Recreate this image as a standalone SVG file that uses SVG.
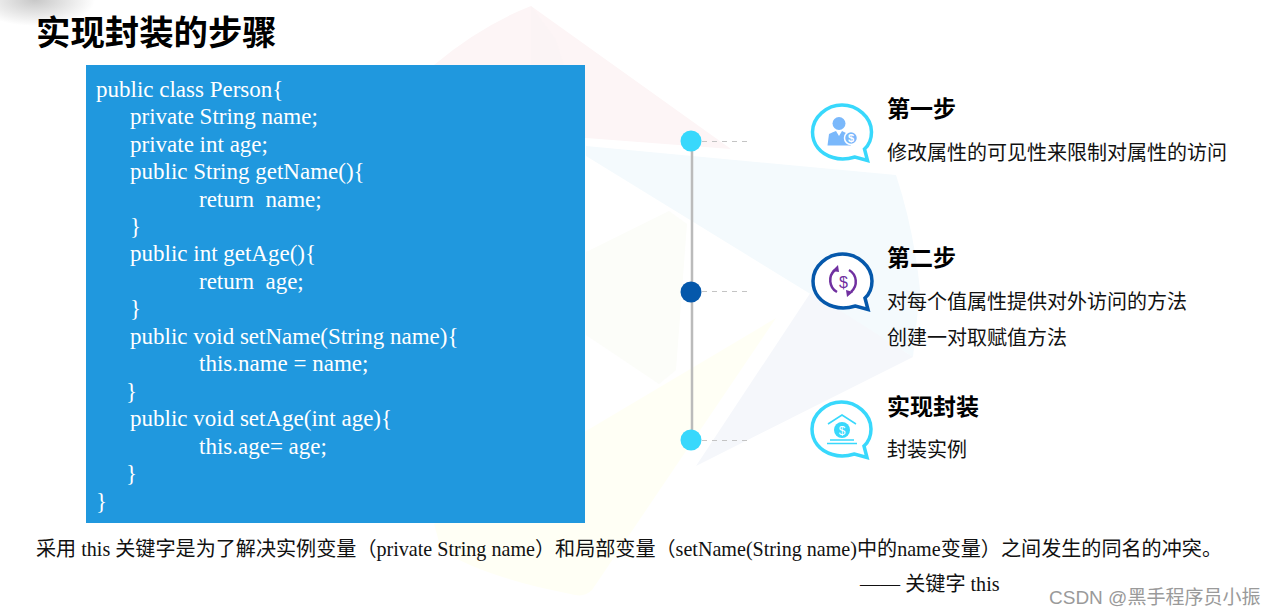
<svg xmlns="http://www.w3.org/2000/svg" xmlns:xlink="http://www.w3.org/1999/xlink" width="1276" height="616" viewBox="0 0 1276 616">
<style>
.code{font-family:"Liberation Serif","Noto Sans CJK SC",serif;font-size:23px;fill:#fff;white-space:pre}
.cjk{font-family:"Noto Sans CJK SC","Liberation Sans",sans-serif;fill:#000}
.h{font-size:23px;font-weight:700}
.b{font-size:20px;fill:#111}
.mix{font-family:"Liberation Serif","Noto Sans CJK SC",serif;font-size:20.1px;fill:#111}
.dash{stroke:#c4c4c4;stroke-width:1;stroke-dasharray:5 5;fill:none}
.light{fill:#38d8fc}.dark{fill:#0558ab}
.bub{fill:#fff;stroke-width:3.500;stroke-linejoin:miter;stroke-miterlimit:3}
</style>
<defs>
<radialGradient id="g"><stop offset="0" stop-color="#c8c8c8"/><stop offset="1" stop-color="#fff"/></radialGradient>
<path id="bubble" d="M13 25C5 27.500 -3 27.500 -9 25.500C-22 22 -29.500 12 -29.500 0C-29.500 -15 -15 -27 0 -27C15 -27 29.500 -15 29.500 0C29.500 7 27 13 22.500 17L25.500 28.500Z"/>
</defs>
<rect width="1276" height="616" fill="#fff"/>
<ellipse cx="35" cy="0" rx="60" ry="26" fill="url(#g)"/>
<g id="background">
<path d="M434 65Q480 26 531 6L731 149L586 138L434 138Z" fill="#fdf5f6"/>
<path d="M531 6L556 40L586 138L531 138Z" fill="#fbf4f5"/>
<path d="M586 146L896 175Q914 230 920 290L913 357L586 156Z" fill="#f4fafd"/>
<path d="M811 292L913 357L696 466Z" fill="#f5f7fb"/>
<path d="M586 252L669 211L687 224L676 370L659 384L586 335Z" fill="#fcfdf9"/>
<path d="M776 318L592 590Q585 597 575 595L538 587Q470 570 441 549L434 524L586 431Z" fill="#fffff5"/>
</g>
<text class="cjk" x="36" y="45" font-size="34.400" font-weight="700">实现封装的步骤</text>
<g id="code">
<rect x="86" y="65" width="499" height="458" fill="#2098de"/>
<text class="code" x="96" y="96.500">public class Person{</text>
<text class="code" x="130" y="124">private String name;</text>
<text class="code" x="130" y="151.500">private int age;</text>
<text class="code" x="130" y="179">public String getName(){</text>
<text class="code" x="199" y="206.500">return  name;</text>
<text class="code" x="130" y="233.500">}</text>
<text class="code" x="130" y="261">public int getAge(){</text>
<text class="code" x="199" y="288.500">return  age;</text>
<text class="code" x="130" y="316">}</text>
<text class="code" x="130" y="343.500">public void setName(String name){</text>
<text class="code" x="199" y="371">this.name = name;</text>
<text class="code" x="126" y="398.500">}</text>
<text class="code" x="130" y="426">public void setAge(int age){</text>
<text class="code" x="199" y="453.500">this.age= age;</text>
<text class="code" x="126" y="481">}</text>
<text class="code" x="96" y="508.500">}</text>
</g>
<g id="connectors">
<line x1="692" y1="141" x2="692" y2="440" stroke="#bbb" stroke-width="2.500"/>
<line class="dash" x1="702" y1="141.500" x2="748" y2="141.500"/>
<line class="dash" x1="702" y1="291.500" x2="748" y2="291.500"/>
<line class="dash" x1="702" y1="440.500" x2="748" y2="440.500"/>
</g>
<g id="dot1"><ellipse class="light" cx="691" cy="141" rx="10.500" ry="10.500"/></g>
<g id="dot2"><ellipse class="dark" cx="691" cy="292" rx="10.500" ry="10.500"/></g>
<g id="dot3"><ellipse class="light" cx="691" cy="440" rx="10.500" ry="10.500"/></g>
<g id="step1">
<use xlink:href="#bubble" href="#bubble" transform="translate(842 132)" class="bub" stroke="#38d8fc"/>
<circle cx="839" cy="123.500" r="6.500" fill="#7ab8fb"/>
<path d="M827.500 145.500L829 134Q833 132 836 131L839 136L842 131L848 134L851 145.500Z" fill="#7ab8fb"/>
<circle cx="851" cy="138" r="6.500" fill="#7ab8fb" stroke="#fff" stroke-width="1.500"/>
<text x="851" y="142" text-anchor="middle" font-family="Liberation Sans,sans-serif" font-size="11" font-weight="700" fill="#fff">$</text>
<text class="cjk h" x="887" y="117">第一步</text>
<text class="cjk b" x="887" y="160">修改属性的可见性来限制对属性的访问</text>
</g>
<g id="step2">
<use xlink:href="#bubble" href="#bubble" transform="translate(842.500 281)" class="bub" stroke="#0558ab"/>
<path d="M835 270A13.500 13.500 0 0 0 837 292M849 270A13.500 13.500 0 0 1 851 292" fill="none" stroke="#7030a0" stroke-width="2.500"/>
<path d="M832 271L838 265L839 272ZM853 292L847 297L846 290Z" fill="#7030a0"/>
<text x="843.500" y="288" text-anchor="middle" font-family="Liberation Sans,sans-serif" font-size="16" fill="#7030a0">$</text>
<text class="cjk h" x="887" y="266">第二步</text>
<text class="cjk b" x="887" y="309">对每个值属性提供对外访问的方法</text>
<text class="cjk b" x="887" y="345">创建一对取赋值方法</text>
</g>
<g id="step3">
<use xlink:href="#bubble" href="#bubble" transform="translate(841.500 429)" class="bub" stroke="#38d8fc"/>
<path d="M828 424L842 415L856 424" fill="none" stroke="#38d8fc" stroke-width="1.500"/>
<circle cx="842" cy="430" r="8" fill="#38d8fc"/>
<text x="842" y="435" text-anchor="middle" font-family="Liberation Sans,sans-serif" font-size="12" fill="#fff">$</text>
<path d="M830 440H854M827 443.500H857" stroke="#38d8fc" stroke-width="1.500"/>
<text class="cjk h" x="887" y="415">实现封装</text>
<text class="cjk b" x="887" y="457">封装实例</text>
</g>
<text class="mix" x="36" y="555.500">采用 this 关键字是为了解决实例变量（private String name）和局部变量（setName(String name)中的name变量）之间发生的同名的冲突。</text>
<text class="mix" x="860" y="591">—— 关键字 this</text>
<text x="1049" y="604" font-family="Liberation Sans,Noto Sans CJK SC,sans-serif" font-size="19" fill="#9a9a9a">CSDN @黑手程序员小振</text>
</svg>
